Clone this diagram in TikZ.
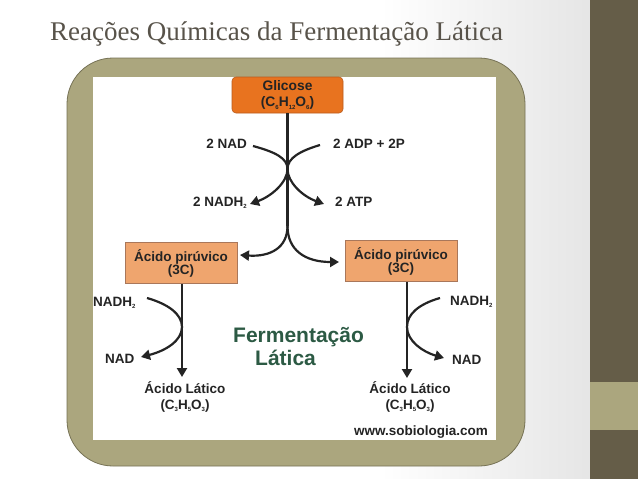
\documentclass[tikz,border=0pt]{standalone}
\usepackage{fontspec}
\setmainfont{Liberation Sans}
\newfontfamily\titlefont{Liberation Serif}
\usetikzlibrary{arrows.meta}
\definecolor{bandc}{HTML}{655D48}
\definecolor{bandl}{HTML}{ABA67E}
\definecolor{framec}{HTML}{ABA67E}
\definecolor{frameline}{HTML}{767255}
\definecolor{orangeA}{HTML}{E8731F}
\definecolor{orangeAb}{HTML}{B85C1E}
\definecolor{orangeB}{HTML}{EFA56E}
\definecolor{orangeBb}{HTML}{A9775A}
\definecolor{txt}{HTML}{242424}
\definecolor{greenT}{HTML}{2C5A44}
\definecolor{titlec}{HTML}{58534A}
\newcommand\chs[1]{\raisebox{-0.35ex}{\fontsize{6}{6}\selectfont #1}}
\tikzset{
  lbl/.style={inner sep=0pt, text=txt, font=\fontsize{13.5}{15.5}\selectfont\bfseries},
  boxA/.style={draw=orangeAb, fill=orangeA, rounded corners=4pt, line width=0.6pt,
    minimum width=111pt, minimum height=36pt, inner sep=0pt, align=center,
    text=txt, font=\fontsize{13.8}{16}\selectfont\bfseries},
  boxB/.style={draw=orangeBb, fill=orangeB, line width=0.6pt,
    minimum width=112pt, minimum height=41pt, inner sep=0pt, align=center,
    text=txt, font=\fontsize{13.5}{13}\selectfont\bfseries},
  flow/.style={draw=txt, line width=2.2pt},
  arr/.style={flow, -{Triangle[length=9pt,width=10pt]}},
}
\begin{document}
\begin{tikzpicture}[x=1pt,y=-1pt]
\useasboundingbox (0,0) rectangle (638,479);
% background
\fill[white] (0,0) rectangle (638,479);
\shade[left color=white, right color=black!10] (380,0) rectangle (590,479);
\fill[bandc] (590,0) rectangle (638,479);
\fill[bandl] (590,382) rectangle (638,430);
% title
\node[anchor=base west, inner sep=0pt, text=titlec,
  font=\titlefont\fontsize{27}{27}\selectfont] (title) at (50,41)
  {Reações Químicas da Fermentação Lática};
% frame
\draw[frameline, fill=framec, line width=0.8pt, rounded corners=46pt] (67,58) rectangle (525,466);
\fill[white] (93,77) rectangle (496,440);
% boxes
\node[boxA] (gli) at (287.5,95) {Glicose\\(C\chs{6}H\chs{12}O\chs{6})};
\node[boxB] (pl) at (181,263) {Ácido pirúvico\\(3C)};
\node[boxB] (pr) at (401,261) {Ácido pirúvico\\(3C)};
% labels top
\node[lbl, anchor=base east] (nad) at (247,148) {2 NAD};
\node[lbl, anchor=base west] (adp) at (333,148) {2 ADP + 2P};
\node[lbl, anchor=base east] (nadh) at (247,206) {2 NADH\chs{2}};
\node[lbl, anchor=base west] (atp) at (335,206) {2 ATP};
% labels lower
\node[lbl, anchor=base west] (lnadh) at (93,306) {NADH\chs{2}};
\node[lbl, anchor=base west] (lnad) at (105,363) {NAD};
\node[lbl, anchor=base west] (rnadh) at (450,305) {NADH\chs{2}};
\node[lbl, anchor=base west] (rnad) at (452,364) {NAD};
\node[lbl, align=center] (llat) at (185,397) {Ácido Lático\\(C\chs{3}H\chs{5}O\chs{3})};
\node[lbl, align=center] (rlat) at (410,397) {Ácido Lático\\(C\chs{3}H\chs{5}O\chs{3})};
\node[lbl, anchor=base] (www) at (421,435) {www.sobiologia.com};
% big green text
\node[anchor=base west, inner sep=0pt, text=greenT, font=\fontsize{21}{22}\selectfont\bfseries] (ferm) at (233,342) {Fermentação};
\node[anchor=base west, inner sep=0pt, text=greenT, font=\fontsize{21}{22}\selectfont\bfseries] (lat) at (255,365) {Lática};
% coordinates
\coordinate (split) at (287.5,226);
\coordinate (vtx) at (287.5,169);
\coordinate (nadS) at (253,146);
\coordinate (nadE) at (250,204);
\coordinate (adpS) at (320,145);
\coordinate (atpE) at (324,204);
\coordinate (ltip) at (240,255);
\coordinate (rtip) at (339,262);
\coordinate (lvtx) at (182,327);
\coordinate (lS) at (147,298);
\coordinate (lE) at (141,357);
\coordinate (ldown) at (182,377);
\coordinate (rvtx) at (407,327);
\coordinate (rS) at (440,298);
\coordinate (rE) at (444,358);
\coordinate (rdown) at (407,378);
% main flow
\draw[flow] (gli.south) -- (split);
\draw[arr] (split) .. controls (287.5,248) and (270,257) .. (ltip);
\draw[arr] (split) .. controls (287.5,250) and (305,262) .. (rtip);
\draw[arr] (nadS) .. controls (275,152) and (287.5,158) .. (vtx)
  .. controls (287.5,182) and (272,196) .. (nadE);
\draw[arr] (adpS) .. controls (300,151) and (287.5,158) .. (vtx)
  .. controls (287.5,182) and (302,196) .. (atpE);
% lower left
\draw[arr] (pl.south -| ldown) -- (ldown);
\draw[arr] (lS) .. controls (168,304) and (182,314) .. (lvtx)
  .. controls (182,341) and (165,351) .. (lE);
% lower right
\draw[arr] (pr.south -| rdown) -- (rdown);
\draw[arr] (rS) .. controls (419,304) and (407,314) .. (rvtx)
  .. controls (407,341) and (423,352) .. (rE);
\end{tikzpicture}
\end{document}
